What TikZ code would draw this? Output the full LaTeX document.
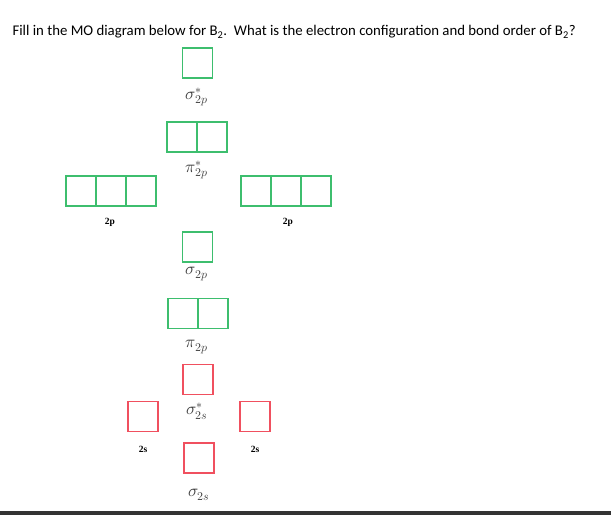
\documentclass[tikz,border=0pt]{standalone}
\usepackage{fontspec}
\setmainfont{Liberation Serif}
\newfontfamily\calib{Carlito}
\usepackage{unicode-math}
\setmathfont{Latin Modern Math}
\definecolor{gbox}{HTML}{3DBE6E}
\definecolor{rbox}{HTML}{F0505F}
\tikzset{
 orb/.style={draw=#1, line width=1.1pt, minimum width=30pt, minimum height=30pt, inner sep=0pt},
 mo/.style={text=black!75, inner sep=0pt, font=\fontsize{17}{18}\selectfont},
 ao/.style={font=\bfseries\fontsize{9.5}{10}\selectfont},
}
\begin{document}
\begin{tikzpicture}[x=1pt,y=-1pt]
\useasboundingbox (0,0) rectangle (611,515);
\node[anchor=west, font=\calib\fontsize{14.8}{16}\selectfont] (title) at (9,32) {Fill in the MO diagram below for B\textsubscript{2}.\ \ What is the electron configuration and bond order of B\textsubscript{2}?};
% sigma*2p
\node[orb=gbox] (s2ps) at (197.5,63) {};
\node[mo] (ls2ps) at (197,97) {$\sigma^*_{2p}$};
% pi*2p
\node[orb=gbox] (p2psa) at (182,137) {};
\node[orb=gbox] (p2psb) at (212,137) {};
\node[mo] (lp2ps) at (197,170) {$\pi^*_{2p}$};
% left 2p
\node[orb=gbox] (l2pa) at (81,191) {};
\node[orb=gbox] (l2pb) at (111,191) {};
\node[orb=gbox] (l2pc) at (141,191) {};
\node[ao] (ll2p) at (110,222) {2p};
% right 2p
\node[orb=gbox] (r2pa) at (256,191) {};
\node[orb=gbox] (r2pb) at (286,191) {};
\node[orb=gbox] (r2pc) at (316,191) {};
\node[ao] (lr2p) at (288,222) {2p};
% sigma2p
\node[orb=gbox] (s2p) at (197.5,247) {};
\node[mo] (ls2p) at (197,274) {$\sigma_{2p}$};
% pi2p
\node[orb=gbox] (p2pa) at (183,313.5) {};
\node[orb=gbox] (p2pb) at (213,313.5) {};
\node[mo] (lp2p) at (197,347) {$\pi_{2p}$};
% sigma*2s
\node[orb=rbox] (s2ss) at (198,379.5) {};
\node[mo] (ls2ss) at (197,411) {$\sigma^*_{2s}$};
% 2s
\node[orb=rbox] (l2s) at (143,416.5) {};
\node[ao] (ll2s) at (143,449) {2s};
\node[orb=rbox] (r2s) at (255,416.5) {};
\node[ao] (lr2s) at (255,449) {2s};
% sigma2s
\node[orb=rbox] (s2s) at (199,458) {};
\node[mo] (ls2s) at (199,495) {$\sigma_{2s}$};
\fill[black!80] (0,511) rectangle (611,515);
\end{tikzpicture}
\end{document}
